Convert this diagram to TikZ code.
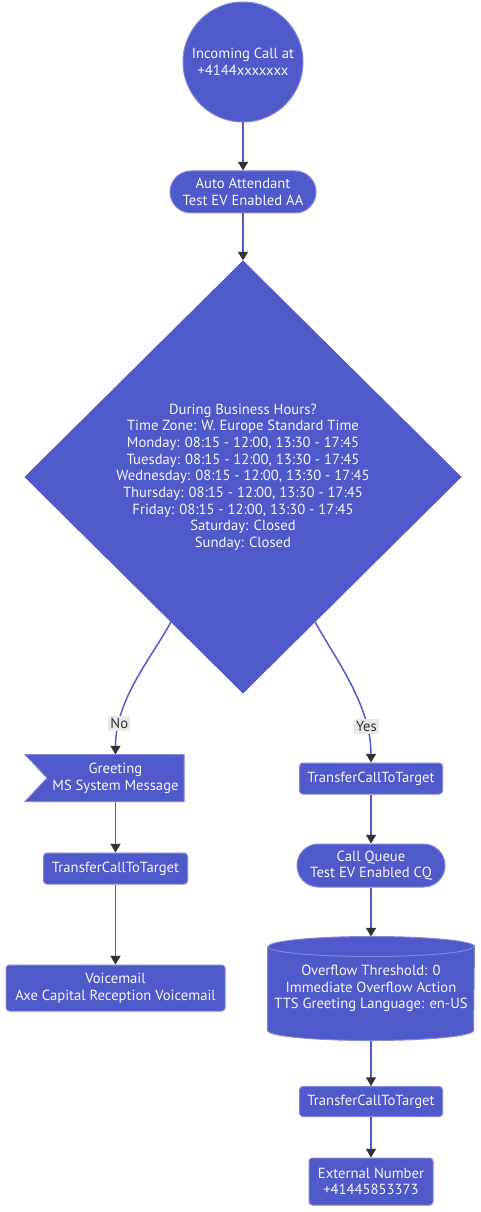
\documentclass[tikz,border=0pt]{standalone}
\usepackage{fontspec}
\setmainfont{PT Sans}
\usetikzlibrary{shapes.geometric,arrows.meta,calc,backgrounds}
\definecolor{nodefill}{HTML}{5059C9}
\definecolor{nodeline}{HTML}{7F86DD}
\definecolor{edgecol}{HTML}{5058D0}
\definecolor{tipcol}{HTML}{333333}
\definecolor{txt}{HTML}{F4F4FA}
\definecolor{lblbg}{HTML}{E8E8E8}
\newcommand{\nfont}{\fontsize{11}{12.5}\selectfont}
\tikzset{
  box/.style={draw=nodeline, line width=0.75pt, fill=nodefill, text=txt, font=\nfont, align=center, inner sep=0pt},
  plainbox/.style={box, rounded corners=2.5pt},
  edge/.style={draw=edgecol, line width=1.1pt, -{Triangle[width=7.5pt,length=6.5pt,color=tipcol]}},
  lbl/.style={fill=lblbg, text=tipcol, font=\nfont, inner sep=1.5pt}
}
\begin{document}
\begin{tikzpicture}[x=0.75pt,y=-0.75pt]
\useasboundingbox (0,0) rectangle (480,1212);
% nodes
\node[box, circle, minimum size=90pt] (start) at (243,62) {Incoming Call at\\+4144xxxxxxx};
\node[box, rounded corners=15.75pt, minimum width=109.5pt, minimum height=31.5pt] (aa) at (243,192) {Auto Attendant\\Test EV Enabled AA};
\node[box, diamond, draw=nodefill, minimum width=327pt, minimum height=324pt] (dec) at (243,477)
 {During Business Hours?\\Time Zone: W. Europe Standard Time\\Monday: 08:15 - 12:00, 13:30 - 17:45\\Tuesday: 08:15 - 12:00, 13:30 - 17:45\\Wednesday: 08:15 - 12:00, 13:30 - 17:45\\Thursday: 08:15 - 12:00, 13:30 - 17:45\\Friday: 08:15 - 12:00, 13:30 - 17:45\\Saturday: Closed\\Sunday: Closed};
\node[box, draw=none, fill=none, minimum width=102pt, minimum height=34.5pt] (greet) at (115.5,778) {Greeting\\MS System Message};
\node[plainbox, minimum width=108pt, minimum height=23.25pt] (t1) at (115.5,868.5) {TransferCallToTarget};
\node[plainbox, minimum width=164.25pt, minimum height=34.5pt] (vm) at (115.5,988) {Voicemail\\Axe Capital Reception Voicemail};
\node[plainbox, minimum width=107.25pt, minimum height=23.25pt] (t2) at (371,778.5) {TransferCallToTarget};
\node[box, rounded corners=16pt, minimum width=111pt, minimum height=32.25pt] (cq) at (371,865.5) {Call Queue\\Test EV Enabled CQ};
\node[box, draw=none, fill=none, minimum width=154.5pt, minimum height=77.25pt] (cyl) at (371,988.5) {Overflow Threshold: 0\\Immediate Overflow Action\\TTS Greeting Language: en-US};
\node[plainbox, minimum width=107.25pt, minimum height=22.5pt] (t3) at (371,1101.5) {TransferCallToTarget};
\node[plainbox, minimum width=93pt, minimum height=35.25pt] (ext) at (371,1181.5) {External Number\\+41445853373};
% shapes behind text
\begin{scope}[on background layer]
\path[box] (greet.north east) -- (greet.south east) -- ([xshift=-16.5pt]greet.south west) -- (greet.west) -- ([xshift=-16.5pt]greet.north west) -- cycle;
\path[box] ([yshift=-7.5pt]cyl.north west) -- ([yshift=7.5pt]cyl.south west)
  arc[start angle=180, end angle=360, x radius=77.25pt, y radius=7.5pt]
  -- ([yshift=-7.5pt]cyl.north east)
  arc[start angle=0, end angle=180, x radius=77.25pt, y radius=7.5pt] -- cycle;
\draw[draw=nodeline, line width=0.75pt] ([yshift=-7.5pt]cyl.north west) arc[start angle=180, end angle=360, x radius=77.25pt, y radius=7.5pt];
\end{scope}
% connectors
\coordinate (nostart) at ($(dec.west)!0.67!(dec.south)$);
\coordinate (yesstart) at ($(dec.east)!0.67!(dec.south)$);
\draw[edge] (start) -- (aa);
\draw[edge] (aa) -- (dec);
\draw[edge] (nostart) .. controls (150,660) and (115.5,700) .. (greet.north) node[lbl,pos=0.8] {No};
\draw[edge] (yesstart) .. controls (336,660) and (371,705) .. (t2.north) node[lbl,pos=0.78] {Yes};
\draw[edge] (greet) -- (t1);
\draw[edge] (t1) -- (vm);
\draw[edge] (t2) -- (cq);
\draw[edge] (cq) -- (cyl);
\draw[edge] (cyl) -- (t3);
\draw[edge] (t3) -- (ext);
\end{tikzpicture}
\end{document}
